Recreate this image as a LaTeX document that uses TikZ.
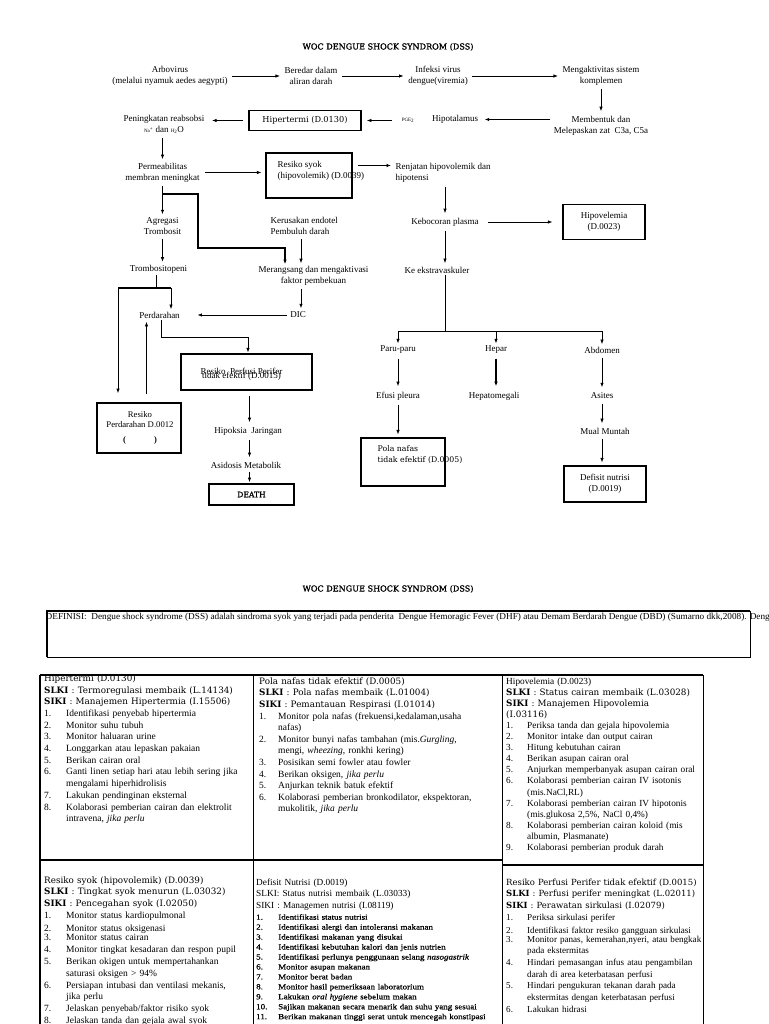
\documentclass[tikz,border=0pt]{standalone}
\usepackage{graphicx}
\usepackage{fontspec}
\setmainfont{Liberation Serif}
\newfontfamily\hdr{DejaVu Serif}
\newfontfamily\hdrb[FakeBold=1.2]{DejaVu Serif}
\newfontfamily\wideserif[FakeStretch=1.15,FakeBold=0.7]{Liberation Serif}
\usetikzlibrary{arrows.meta}
\newlength\numw
\setlength\numw{22pt}
\newcommand\nm[1]{\makebox[\numw][l]{#1}}
\newcommand\js[2]{\makebox[#1][s]{#2}}
\begin{document}
\begin{tikzpicture}[x=1pt,y=-1pt,
  tx/.style={font=\fontsize{9}{11}\selectfont, align=center, inner sep=1.5pt},
  ln/.style={line width=0.7pt},
  arr/.style={line width=0.7pt, -{Latex[length=4.5pt,width=3.4pt]}},
  thk/.style={line width=1.4pt},
  boxA/.style={draw, line width=1.7pt, inner sep=2pt, align=center},
  boxB/.style={draw, line width=1.1pt, inner sep=2pt, align=center},
  hd/.style={font=\hdrb\fontsize{8.1}{10}\selectfont},
  cell/.style={anchor=north west, inner sep=0pt, align=left, text width=260pt, font=\fontsize{9.5}{11.7}\selectfont}]
\useasboundingbox (0,0) rectangle (768,1024);
\fill[white] (0,0) rectangle (768,1024);

% ---------- title ----------
\node[hd] (t1) at (388,47) {WOC DENGUE SHOCK SYNDROM (DSS)};

% ---------- row 1 ----------
\node[tx] (arbo) at (170,76) {Arbovirus\\(melalui nyamuk aedes aegypti)};
\node[tx] (bered) at (311,76) {Beredar dalam\\aliran darah};
\node[tx] (infek) at (438,76) {Infeksi virus\\dengue(viremia)};
\node[tx] (aktiv) at (601,76) {Mengaktivitas sistem\\komplemen};
\draw[arr, shorten <=3pt, shorten >=3pt] (arbo) -- (bered);
\draw[arr, shorten <=3pt, shorten >=3pt] (bered) -- (infek);
\draw[arr, shorten <=3pt, shorten >=3pt] (infek) -- (aktiv);

% ---------- row 2 ----------
\node[tx] (memb) at (601,125.5) {Membentuk dan\\Melepaskan zat\ \ C3a, C5a};
\draw[arr, shorten <=2pt, shorten >=3pt] (aktiv) -- (memb);
\node[tx] (hipo) at (455,119.5) {Hipotalamus};
\node[tx, font=\fontsize{5}{6}\selectfont] (pge) at (408,120.5) {PGE\textsubscript{2}};
\draw[arr, shorten <=2pt, shorten >=5pt] (memb.west |- hipo) -- (hipo);
\node[boxA, minimum width=112pt, minimum height=20pt, font=\hdr\fontsize{8.2}{10}\selectfont] (hiper) at (305,120.5) {Hipertermi (D.0130)};
\draw[arr, shorten <=8pt, shorten >=5pt] (pge) -- (hiper);
\node[tx] (pen) at (164,124.5) {Peningkatan reabsobsi\\{\fontsize{5}{6}\selectfont Na\textsuperscript{+}} dan {\fontsize{5}{6}\selectfont H\textsubscript{2}}O};
\draw[arr, shorten <=5pt, shorten >=6pt] (hiper.west) -- (hiper.west -| pen.east);

% ---------- row 3 ----------
\node[tx] (perm) at (162.5,172.5) {Permeabilitas\\membran meningkat};
\draw[arr, shorten <=2pt, shorten >=2pt] (pen.south -| perm) -- (perm);
\node[boxB, minimum width=86pt, minimum height=45pt] (syok) at (309,175.5) {};
\node[tx, align=left, anchor=west] (syoklbl) at (276,170.5) {Resiko syok\\(hipovolemik) (D.0039)};
\draw[arr, shorten <=4pt, shorten >=4pt] (perm.east) -- (perm.east -| syok.west);
\node[tx, align=left, anchor=west] (renj) at (394,172.5) {Renjatan hipovolemik dan\\hipotensi};
\draw[arr, shorten <=5pt, shorten >=3pt] ([yshift=10pt]syok.east) -- ([yshift=10pt]syok.east -| renj.west);
\node[tx] (keb) at (445,222) {Kebocoran plasma};
\draw[arr, shorten <=3pt, shorten >=3pt] (renj.south -| keb) -- (keb);
\node[boxB, minimum width=82pt, minimum height=35pt, font=\fontsize{9}{11}\selectfont] (hipov) at (604,222) {Hipovelemia\\(D.0023)};
\draw[arr, shorten <=8pt, shorten >=10pt] (keb) -- (hipov);

% ---------- row 4 ----------
\node[tx] (agr) at (162.5,226.5) {Agregasi\\Trombosit};
\draw[arr, shorten <=2pt, shorten >=2pt] (perm) -- (agr);
\coordinate (br1) at (162.5,194);
\node[tx, align=left, anchor=west] (kerus) at (269,226) {Kerusakan endotel\\Pembuluh darah};
\node[tx] (mer) at (313.5,275.5) {Merangsang dan mengaktivasi\\faktor pembekuan};
\draw[thk, -{Latex[length=4.5pt,width=3.4pt]}] (br1) -- (198,194) -- (198,248) -| ([xshift=-28.5pt]mer.north);
\coordinate (colx) at (301,0);
\draw[arr, shorten <=3pt, shorten >=1pt] (kerus.south -| colx) -- (mer.north -| colx);
\node[tx] (dic) at (298,315) {DIC};
\node[tx] (tromb) at (158.5,269.5) {Trombositopeni};
\draw[arr, shorten <=2pt, shorten >=2pt] (agr) -- (agr |- tromb.north);
\draw[arr, shorten <=2pt, shorten >=2pt] (mer.south -| colx) -- (dic.north -| colx);
\node[tx] (ekstra) at (437,270) {Ke ekstravaskuler};
\draw[arr, shorten <=3pt, shorten >=2pt] (keb) -- (keb |- ekstra.north);

% ---------- left branch ----------
\coordinate (tl) at (118,288);
\coordinate (tm) at (156,288);
\coordinate (tr) at (171,288);
\draw[ln] (tromb.south -| tm) -- (tm);
\draw[thk] (tl) -- (tr);
\node[tx] (perd) at (159.5,315) {Perdarahan};
\draw[arr, shorten >=1pt] (tr) -- (tr |- perd.north);
\draw[arr, shorten <=2pt, shorten >=16pt] (dic) -- (perd);
\node[boxA, minimum width=84pt, minimum height=50pt] (perdbox) at (139,428) {};
\node[tx, font=\fontsize{8.7}{10}\selectfont] (perdlbl) at (140,420) {Resiko\\Perdarahan D.0012};
\node[tx, font=\bfseries\fontsize{8.5}{10}\selectfont] (perdpar) at (140,440) {(\hspace{28pt})};
\draw[arr, shorten >=9pt] (tl) -- (tl |- perdbox.north);
\draw[arr, shorten <=8pt, shorten >=2pt] ([xshift=7.5pt]perdbox.north) -- ([xshift=7.5pt]perdbox.north |- perd.south);
\node[boxB, minimum width=131pt, minimum height=36pt] (perf) at (246.5,372) {};
\node[tx] (perflbla) at (241.5,371.5) {Resiko\ \ Perfusi\ Perifer};
\node[tx] (perflblb) at (241.5,376.5) {tidak efektif (D.0015)};
\draw[arr, shorten >=1pt] ([xshift=2pt]perd.south) -- ++(0,17) -| ([xshift=1.5pt]perf.north);
\coordinate (cx) at (249.5,0);
\node[tx] (hipok) at (248,431) {Hipoksia\ \ Jaringan};
\draw[arr, shorten <=5pt, shorten >=3pt] (perf.south -| cx) -- (hipok.north -| cx);
\node[tx] (asid) at (246,465) {Asidosis Metabolik};
\draw[arr, shorten <=3pt, shorten >=3pt] (hipok.south -| cx) -- (asid.north -| cx);
\node[boxA, minimum width=85pt, minimum height=21pt, font=\hdrb\fontsize{7.6}{9}\selectfont] (death) at (251.5,494.5) {DEATH};
\draw[arr, shorten <=2pt, shorten >=1pt] (asid.south -| cx) -- (death.north -| cx);

% ---------- right branch ----------
\coordinate (bj) at (445,331);
\node[tx] (paru) at (398,350) {Paru-paru};
\node[tx] (hepar) at (496,350) {Hepar};
\node[tx] (abd) at (602,350) {Abdomen};
\draw[ln] (ekstra.south -| bj) -- (bj);
\draw[ln] (bj -| paru) -- (bj -| abd);
\draw[arr, shorten >=1pt] (bj -| paru) -- (paru);
\draw[arr, shorten >=1pt] (bj -| hepar) -- (hepar);
\draw[arr, shorten >=1pt] (bj -| abd) -- (abd);
\node[tx] (efusi) at (398,396) {Efusi pleura};
\draw[arr, shorten <=3pt, shorten >=4pt] (paru) -- (efusi);
\node[tx] (hepat) at (494,396) {Hepatomegali};
\draw[thk, -{Latex[length=4.5pt,width=3.6pt]}, shorten <=3pt, shorten >=4pt] (hepar) -- (hepar |- hepat.north);
\node[tx] (asites) at (602,396) {Asites};
\draw[arr, shorten <=3pt, shorten >=4pt] (abd) -- (asites);
\node[tx] (mual) at (605,431) {Mual Muntah};
\draw[arr, shorten <=3pt, shorten >=3pt] (asites) -- (asites |- mual.north);
\node[boxB, minimum width=82pt, minimum height=36pt, font=\fontsize{9}{11}\selectfont] (defbox) at (605,484) {Defisit nutrisi\\(D.0019)};
\draw[arr, shorten <=3pt, shorten >=3pt] (mual.south -| asites) -- (defbox.north -| asites);
\node[boxB, minimum width=84pt, minimum height=48pt] (polabox) at (403,462) {};
\node[tx, align=left, anchor=west, font=\hdr\fontsize{7.8}{10.5}\selectfont] (polalbl) at (376,454.5) {Pola nafas\\tidak efektif (D.0005)};
\draw[arr, shorten <=3pt, shorten >=3pt] (efusi) -- (efusi |- polabox.north);

% ---------- second part ----------
\node[hd] (t2) at (388,589) {WOC DENGUE SHOCK SYNDROM (DSS)};
\node[anchor=west, inner sep=0pt] (deftxt) at (45.5,617.5) {\resizebox{724pt}{6.3pt}{DEFINISI:\ \ Dengue shock syndrome (DSS) adalah sindroma syok yang terjadi pada penderita\ \ Dengue Hemoragic Fever (DHF) atau Demam Berdarah Dengue (DBD) (Sumarno dkk,2008). Deng}};
\draw[line width=0.8pt] (47,611) rectangle (750,657);
\draw[line width=1.6pt] (47,657) -- (47,611) -- (750,611);

% ---------- table cells ----------
\node[cell] (c11) at (44,674.5) {\setlength\numw{22pt}%
{\hdr\fontsize{8.8}{11.7}\selectfont Hipertermi (D.0130)}\\
{\hdr\fontsize{8.8}{11.7}\selectfont\textbf{SLKI} : Termoregulasi membaik (L.14134)}\\
{\hdr\fontsize{8.8}{11.7}\selectfont\textbf{SIKI} : Manajemen Hipertermia (I.15506)}\\
\nm{1.}Identifikasi penyebab hipertermia\\
\nm{2.}Monitor suhu tubuh\\
\nm{3.}Monitor haluaran urine\\
\nm{4.}Longgarkan atau lepaskan pakaian\\
\nm{5.}Berikan cairan oral\\
\nm{6.}\js{184pt}{Ganti linen setiap hari atau lebih sering jika}\\
\nm{}mengalami hiperhidrolisis\\
\nm{7.}Lakukan pendinginan eksternal\\
\nm{8.}\js{184pt}{Kolaborasi pemberian cairan dan elektrolit}\\
\nm{}intravena, \textit{jika perlu}};

\node[cell, font=\fontsize{9.5}{11.6}\selectfont] (c12) at (259,677.4) {\setlength\numw{19pt}%
{\hdr\fontsize{8.8}{11.6}\selectfont Pola nafas tidak efektif (D.0005)}\\
{\hdr\fontsize{8.8}{11.6}\selectfont\textbf{SLKI} : Pola nafas membaik (L.01004)}\\
{\hdr\fontsize{8.8}{11.6}\selectfont\textbf{SIKI} : Pemantauan Respirasi (I.01014)}\\
\nm{1.}\js{220pt}{Monitor pola nafas (frekuensi,kedalaman,usaha}\\
\nm{}nafas)\\
\nm{2.}\js{220pt}{Monitor bunyi nafas tambahan (mis.\textit{Gurgling},}\\
\nm{}mengi, \textit{wheezing}, ronkhi kering)\\
\nm{3.}Posisikan semi fowler atau fowler\\
\nm{4.}Berikan oksigen, \textit{jika perlu}\\
\nm{5.}Anjurkan teknik batuk efektif\\
\nm{6.}\js{220pt}{Kolaborasi pemberian bronkodilator, ekspektoran,}\\
\nm{}mukolitik, \textit{jika perlu}};

\node[cell, font=\fontsize{9.3}{11.1}\selectfont] (c13) at (506,677.4) {\setlength\numw{21pt}%
Hipovelemia (D.0023)\\
{\hdr\fontsize{8.8}{11.1}\selectfont\textbf{SLKI} : Status cairan membaik (L.03028)}\\
{\hdr\fontsize{8.8}{11.1}\selectfont\textbf{SIKI} : Manajemen Hipovolemia}\\
{\hdr\fontsize{8.8}{11.1}\selectfont (I.03116)}\\
\nm{1.}Periksa tanda dan gejala hipovolemia\\
\nm{2.}Monitor intake dan output cairan\\
\nm{3.}Hitung kebutuhan cairan\\
\nm{4.}Berikan asupan cairan oral\\
\nm{5.}Anjurkan memperbanyak asupan cairan oral\\
\nm{6.}\js{173pt}{Kolaborasi pemberian cairan IV isotonis}\\
\nm{}(mis.NaCl,RL)\\
\nm{7.}\js{173pt}{Kolaborasi pemberian cairan IV hipotonis}\\
\nm{}(mis.glukosa 2,5\%, NaCl 0,4\%)\\
\nm{8.}\js{173pt}{Kolaborasi pemberian cairan koloid (mis}\\
\nm{}albumin, Plasmanate)\\
\nm{9.}Kolaborasi pemberian produk darah};

\node[cell, font=\fontsize{9.5}{11.7}\selectfont] (c21) at (44,876.4) {\setlength\numw{22pt}%
{\hdr\fontsize{8.8}{11.7}\selectfont Resiko syok (hipovolemik) (D.0039)}\\
{\hdr\fontsize{8.8}{11.7}\selectfont\textbf{SLKI} : Tingkat syok menurun (L.03032)}\\
{\hdr\fontsize{8.8}{11.7}\selectfont\textbf{SIKI} : Pencegahan syok (I.02050)}\\
\nm{1.}Monitor status kardiopulmonal\\[1.5pt]
\nm{2.}Monitor status oksigenasi\\[-3pt]
\nm{3.}Monitor status cairan\\[1pt]
\nm{4.}Monitor tingkat kesadaran dan respon pupil\\
\nm{5.}\js{184pt}{Berikan okigen untuk mempertahankan}\\
\nm{}saturasi oksigen > 94\%\\
\nm{6.}\js{184pt}{Persiapan intubasi dan ventilasi mekanis,}\\
\nm{}jika perlu\\
\nm{7.}Jelaskan penyebab/faktor risiko syok\\
\nm{8.}Jelaskan tanda dan gejala awal syok\\
\nm{9.}Kolaborasi pemberian cairan IV, \textit{jika perlu}};

\node[cell, font=\fontsize{9.3}{11.5}\selectfont] (c22a) at (256,878.6) {%
Defisit Nutrisi (D.0019)\\
SLKI: Status nutrisi membaik (L.03033)\\
SIKI : Managemen nutrisi (I.08119)};
\node[cell, font=\wideserif\fontsize{7.8}{9.95}\selectfont] (c22b) at (256,914) {\setlength\numw{22pt}%
\nm{1.}Identifikasi status nutrisi\\
\nm{2.}Identifikasi alergi dan intoleransi makanan\\
\nm{3.}Identifikasi makanan yang disukai\\
\nm{4.}Identifikasi kebutuhan kalori dan jenis nutrien\\
\nm{5.}Identifikasi perlunya penggunaan selang \textit{nasogastrik}\\
\nm{6.}Monitor asupan makanan\\
\nm{7.}Monitor berat badan\\
\nm{8.}Monitor hasil pemeriksaan laboratorium\\
\nm{9.}Lakukan \textit{oral hygiene} sebelum makan\\
\nm{10.}Sajikan makanan secara menarik dan suhu yang sesuai\\
\nm{11.}Berikan makanan tinggi serat untuk mencegah konstipasi};

\node[cell, font=\fontsize{9.1}{11.7}\selectfont] (c23) at (506,878.4) {\setlength\numw{21pt}%
{\hdr\fontsize{8.5}{11.7}\selectfont Resiko Perfusi Perifer tidak efektif (D.0015)}\\
{\hdr\fontsize{8.5}{11.7}\selectfont\textbf{SLKI} : Perfusi perifer meningkat (L.02011)}\\
{\hdr\fontsize{8.5}{11.7}\selectfont\textbf{SIKI} : Perawatan sirkulasi (I.02079)}\\
\nm{1.}Periksa sirkulasi perifer\\[1.5pt]
\nm{2.}Identifikasi faktor resiko gangguan sirkulasi\\[-3pt]
\nm{3.}\js{173pt}{Monitor panas, kemerahan,nyeri, atau bengkak}\\
\nm{}pada ekstermitas\\
\nm{4.}\js{173pt}{Hindari pemasangan infus atau pengambilan}\\
\nm{}darah di area keterbatasan perfusi\\
\nm{5.}\js{173pt}{Hindari pengukuran tekanan darah pada}\\
\nm{}ekstermitas dengan keterbatasan perfusi\\
\nm{6.}Lakukan hidrasi};

% ---------- table grid ----------
\draw[line width=1.5pt] (40,675) -- (703,675);
\draw[line width=1.4pt] (40,675) -- (40,1024);
\draw[line width=1pt] (253,675) -- (253,1024);
\draw[line width=1pt] (502,675) -- (502,1024);
\draw[line width=1pt] (703,675) -- (703,1024);
\draw[line width=1.4pt] (40,860) -- (502,860);
\draw[line width=1.2pt] (502,865) -- (703,865);
\end{tikzpicture}
\end{document}
